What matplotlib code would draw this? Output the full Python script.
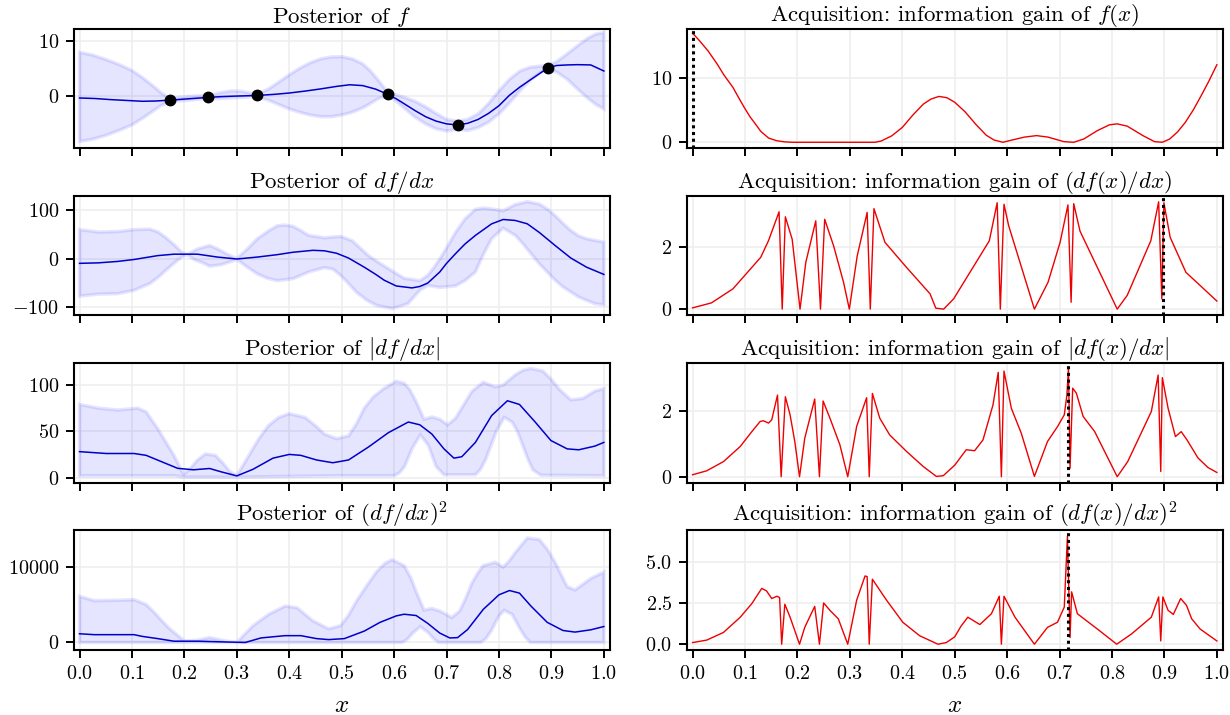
import numpy as np
import matplotlib
matplotlib.use('Agg')
import matplotlib.pyplot as plt

# ---- observed data points (posterior of f) ----
OBS_X = [0.172, 0.245, 0.339, 0.588, 0.721, 0.894]
OBS_Y = [-0.8, -0.3, 0.06, 0.25, -5.3, 5.1]

# ---- posterior of f ----
F_MEAN_X = [0, 0.03, 0.06, 0.09, 0.12, 0.145, 0.172, 0.2, 0.245, 0.27, 0.30, 0.339, 0.37, 0.40,
            0.43, 0.46, 0.49, 0.515, 0.54, 0.565, 0.588, 0.605, 0.62, 0.64, 0.66, 0.68, 0.70,
            0.721, 0.74, 0.76, 0.78, 0.80, 0.82, 0.84, 0.86, 0.88, 0.894, 0.91, 0.93, 0.95,
            0.975, 1.0]
F_MEAN_Y = [-0.4, -0.5, -0.7, -0.85, -1.0, -0.95, -0.8, -0.6, -0.3, -0.15, -0.05, 0.06, 0.25, 0.5,
            0.85, 1.25, 1.7, 2.0, 1.85, 1.2, 0.25, -0.6, -1.5, -2.7, -3.8, -4.6, -5.1,
            -5.3, -5.0, -4.3, -3.2, -1.8, 0.1, 1.6, 2.9, 4.2, 5.1, 5.5, 5.6, 5.65,
            5.6, 4.5]
F_BAND_X = [0, 0.025, 0.05, 0.075, 0.10, 0.12, 0.14, 0.155, 0.172, 0.19, 0.21, 0.23, 0.245, 0.27,
            0.29, 0.31, 0.325, 0.339, 0.36, 0.38, 0.40, 0.42, 0.44, 0.46, 0.48, 0.50, 0.52,
            0.54, 0.555, 0.57, 0.588, 0.60, 0.62, 0.64, 0.66, 0.68, 0.70, 0.721, 0.74, 0.76,
            0.78, 0.80, 0.82, 0.84, 0.86, 0.88, 0.894, 0.91, 0.93, 0.95, 0.97, 0.985, 1.0]
F_UP_Y = [7.9, 7.4, 6.6, 5.7, 4.6, 3.3, 1.8, 0.6, -0.5, -0.3, -0.1, 0.0, 0.0, 0.6,
          0.9, 0.8, 0.5, 0.3, 1.2, 2.5, 3.8, 5.0, 6.0, 6.7, 7.05, 7.1, 6.7,
          5.8, 4.5, 2.8, 0.6, 0.3, -0.3, -1.0, -2.0, -3.2, -4.3, -4.6, -4.3, -3.3,
          -1.4, 0.9, 3.0, 4.5, 5.2, 5.4, 5.5, 6.2, 7.6, 9.1, 10.5, 11.2, 11.5]
F_LO_Y = [-8.3, -7.9, -7.2, -6.3, -5.3, -4.1, -2.8, -1.8, -1.1, -0.9, -0.8, -0.6, -0.6, -0.5,
          -0.4, -0.3, -0.2, -0.2, -0.8, -1.6, -2.4, -3.0, -3.5, -3.8, -3.8, -3.5, -3.0,
          -2.2, -1.4, -0.5, 0.0, -0.7, -2.3, -3.9, -5.1, -6.0, -6.4, -6.1, -6.3, -5.8,
          -4.8, -3.3, -1.3, 0.9, 2.9, 4.3, 4.7, 4.3, 3.0, 1.2, -0.5, -1.6, -2.4]

# ---- posterior of df/dx ----
D_MEAN_X = [0, 0.036, 0.073, 0.104, 0.149, 0.18, 0.225, 0.263, 0.30, 0.339, 0.377, 0.407, 0.445,
            0.467, 0.49, 0.513, 0.543, 0.565, 0.581, 0.604, 0.634, 0.649, 0.664, 0.687, 0.70,
            0.717, 0.735, 0.755, 0.786, 0.808, 0.831, 0.854, 0.877, 0.907, 0.937, 0.967, 1.0]
D_MEAN_Y = [-10, -9, -6, -2, 6, 9, 9, 3, -1, 3, 8, 13, 17,
            16, 11, 1, -18, -33, -45, -57, -61, -58, -51, -28, -10,
            10, 30, 48, 72, 81, 79, 72, 54, 27, 1, -18, -33]
D_UP_X = [0, 0.036, 0.073, 0.104, 0.134, 0.15, 0.164, 0.18, 0.195, 0.205, 0.225, 0.248, 0.263,
          0.28, 0.293, 0.30, 0.32, 0.339, 0.36, 0.377, 0.392, 0.407, 0.422, 0.437, 0.467, 0.498,
          0.52, 0.535, 0.551, 0.57, 0.589, 0.619, 0.649, 0.664, 0.675, 0.687, 0.70, 0.717, 0.735,
          0.755, 0.77, 0.786, 0.808, 0.831, 0.854, 0.877, 0.892, 0.907, 0.922, 0.937, 0.952,
          0.967, 1.0]
D_UP_Y = [60, 55, 56, 60, 61, 55, 44, 29, 13, 8, 20, 27, 20,
          10, 3, 0, 20, 41, 57, 68, 69.5, 67, 58, 48, 43, 46,
          37, 22, 6, -8, -21, -41, -46, -35, -20, -1, 22, 54, 82,
          102, 105, 103, 99, 112, 118, 113, 103, 89, 73, 58, 47,
          41, 34]
D_LO_X = [0, 0.036, 0.073, 0.104, 0.134, 0.15, 0.164, 0.18, 0.195, 0.205, 0.22, 0.233, 0.248, 0.27,
          0.30, 0.32, 0.339, 0.358, 0.377, 0.407, 0.437, 0.467, 0.483, 0.498, 0.513, 0.528, 0.547,
          0.566, 0.596, 0.626, 0.649, 0.664, 0.687, 0.717, 0.735, 0.755, 0.77, 0.786, 0.808,
          0.831, 0.846, 0.861, 0.876, 0.892, 0.907, 0.922, 0.952, 0.983, 1.0]
D_LO_Y = [-78, -74, -73, -66, -52, -39, -25, -10, 3, 8, -3, -8, -16, -13,
          -2, -18, -32, -41, -46, -42, -28, -19, -22, -35, -52, -70, -86,
          -97, -104, -94, -66, -56, -60, -57, -46, -28, 8, 41, 63,
          48, 30, 10, -10, -28, -45, -59, -80, -94, -96]

# ---- posterior of |df/dx| ----
A_MEAN_X = [0, 0.051, 0.104, 0.127, 0.157, 0.187, 0.217, 0.248, 0.27, 0.30, 0.331, 0.369, 0.40,
            0.422, 0.452, 0.483, 0.513, 0.551, 0.589, 0.627, 0.649, 0.672, 0.695, 0.714, 0.729,
            0.755, 0.786, 0.816, 0.839, 0.869, 0.899, 0.93, 0.952, 0.983, 1.0]
A_MEAN_Y = [28, 26, 26, 24, 17, 10, 8.4, 9.8, 6.2, 1.8, 9, 21, 25,
            24, 19, 16, 19, 33, 48.5, 60, 57, 47, 31, 21, 22.5,
            38, 67, 83, 79, 60, 40, 31, 30, 34, 38]
A_UP_X = [0, 0.036, 0.073, 0.111, 0.127, 0.149, 0.165, 0.18, 0.198, 0.21, 0.225, 0.24, 0.259,
          0.273, 0.286, 0.30, 0.323, 0.342, 0.36, 0.38, 0.40, 0.43, 0.45, 0.467, 0.49, 0.513,
          0.528, 0.543, 0.56, 0.58, 0.604, 0.619, 0.63, 0.642, 0.657, 0.672, 0.687, 0.702, 0.717,
          0.732, 0.748, 0.77, 0.793, 0.808, 0.831, 0.846, 0.861, 0.884, 0.9, 0.914, 0.937,
          0.96, 0.983, 1.0]
A_UP_Y = [79, 75, 73, 75, 71, 53, 38, 24, 3.6, 9, 19, 25.5, 24,
          16, 7, 2, 24, 42, 56, 65, 69, 65, 56, 47, 42, 45,
          58, 75, 87, 96, 104, 102, 95, 82, 63, 65.5, 63, 57, 64,
          78, 93, 103, 98, 100, 111, 116, 118, 115, 106, 96, 84,
          85.5, 93.5, 96]
A_LO_X = [0, 0.18, 0.20, 0.30, 0.50, 0.60, 0.61, 0.62, 0.635, 0.65, 0.665, 0.68, 0.695, 0.755,
          0.765, 0.775, 0.785, 0.795, 0.81, 0.825, 0.835, 0.845, 0.855, 0.865, 0.88, 1.0]
A_LO_Y = [2, 2, 0.5, 0.5, 2, 2, 5, 12, 32, 46, 35, 12, 3, 3,
          9, 20, 35, 50, 65, 60, 50, 35, 20, 8, 2.5, 2]

# ---- posterior of (df/dx)^2 ----
S_MEAN_X = [0, 0.028, 0.104, 0.119, 0.149, 0.18, 0.225, 0.27, 0.316, 0.346, 0.392, 0.422, 0.452,
            0.475, 0.505, 0.543, 0.573, 0.604, 0.619, 0.642, 0.664, 0.687, 0.706, 0.721, 0.74,
            0.77, 0.80, 0.82, 0.839, 0.861, 0.892, 0.922, 0.945, 0.975, 1.0]
S_MEAN_Y = [1150, 1030, 1030, 810, 510, 170, 170, 85, 0, 600, 900, 900, 510,
            380, 510, 1500, 2650, 3500, 3720, 3550, 2520, 1240, 600, 640, 1700,
            4360, 6280, 6840, 6500, 4790, 2650, 1580, 1370, 1670, 2100]
S_UP_X = [0, 0.028, 0.073, 0.104, 0.127, 0.142, 0.157, 0.172, 0.187, 0.20, 0.225, 0.248, 0.278,
          0.30, 0.315, 0.331, 0.361, 0.392, 0.415, 0.445, 0.475, 0.498, 0.513, 0.528, 0.548,
          0.566, 0.582, 0.596, 0.619, 0.632, 0.642, 0.657, 0.672, 0.687, 0.71, 0.725, 0.737,
          0.748, 0.76, 0.77, 0.793, 0.808, 0.82, 0.831, 0.854, 0.877, 0.892, 0.907, 0.93,
          0.945, 0.975, 1.0]
S_UP_Y = [6070, 5510, 5560, 5640, 5000, 4000, 2860, 1800, 940, 210, 300, 640, 210,
          0, 1100, 2220, 3720, 4790, 4570, 2860, 1800, 2220, 3600, 5430, 7500,
          9270, 10400, 10900, 10130, 8500, 6710, 4270, 4490, 4150, 3290, 4150, 5900,
          7780, 9200, 10130, 10560, 9910, 10800, 11840, 13760, 13550, 12300, 10560, 7350,
          6920, 8420, 9270]
S_LO_X = [0, 0.615, 0.625, 0.635, 0.65, 0.665, 0.675, 0.685, 0.765, 0.775, 0.785, 0.80, 0.81,
          0.825, 0.84, 0.85, 0.86, 1.0]
S_LO_Y = [0, 0, 400, 1200, 2090, 1300, 500, 0, 0, 500, 1500, 3500, 4230,
          3700, 1800, 700, 0, 0]

# ---- acquisition: information gain of f(x) ----
G1_X = [0, 0.0135, 0.03, 0.047, 0.06, 0.077, 0.09, 0.10, 0.11, 0.122, 0.13, 0.145, 0.16, 0.175,
        0.19, 0.348, 0.36, 0.38, 0.40, 0.42, 0.44, 0.455, 0.47, 0.485, 0.50, 0.52, 0.54, 0.56,
        0.575, 0.592, 0.61, 0.633, 0.656, 0.678, 0.708, 0.727, 0.746, 0.772, 0.795, 0.81, 0.829,
        0.859, 0.881, 0.896, 0.91, 0.925, 0.94, 0.955, 0.97, 0.985, 1.0]
G1_Y = [16.9, 15.7, 14.1, 12.1, 10.4, 8.5, 6.6, 5.2, 3.9, 2.6, 1.7, 0.65, 0.25, 0.07,
        0.0, 0.0, 0.2, 1.0, 2.3, 4.2, 5.9, 6.7, 7.1, 6.9, 6.2, 4.7, 2.8, 1.1,
        0.35, 0.0, 0.36, 0.8, 1.03, 0.8, 0.1, 0.0, 0.5, 1.8, 2.7, 2.85, 2.5,
        1.03, 0.1, 0.0, 0.5, 1.6, 3.1, 5.0, 7.2, 9.5, 12.0]

# ---- acquisition: information gain of df/dx ----
G2_X = [0, 0.036, 0.077, 0.13, 0.145, 0.165, 0.171, 0.177, 0.19, 0.205, 0.216, 0.235, 0.244,
        0.252, 0.269, 0.288, 0.299, 0.314, 0.333, 0.339, 0.346, 0.367, 0.408, 0.453, 0.464,
        0.479, 0.498, 0.566, 0.581, 0.587, 0.594, 0.603, 0.652, 0.678, 0.701, 0.716, 0.722,
        0.727, 0.739, 0.81, 0.829, 0.874, 0.889, 0.895, 0.899, 0.911, 0.941, 1.0]
G2_Y = [0.04, 0.2, 0.65, 1.66, 2.2, 3.12, 0.0, 2.96, 2.24, 0.0, 1.5, 2.83, 0.0,
        2.88, 2.03, 0.86, 0.0, 1.7, 3.1, 0.0, 3.22, 2.14, 1.34, 0.49, 0.03,
        0.0, 0.33, 2.19, 3.41, 0.0, 3.36, 2.67, 0.0, 0.86, 2.14, 3.34, 0.22,
        3.38, 2.5, 0.0, 0.44, 2.19, 3.44, 0.33, 3.41, 2.3, 1.18, 0.26]

# ---- acquisition: information gain of |df/dx| ----
G3_X = [0, 0.027, 0.059, 0.091, 0.113, 0.129, 0.135, 0.145, 0.151, 0.162, 0.169, 0.177, 0.186,
        0.195, 0.204, 0.214, 0.233, 0.242, 0.249, 0.262, 0.281, 0.296, 0.313, 0.332, 0.337,
        0.343, 0.357, 0.376, 0.408, 0.44, 0.465, 0.478, 0.50, 0.522, 0.538, 0.554, 0.573,
        0.583, 0.589, 0.594, 0.608, 0.627, 0.652, 0.677, 0.696, 0.709, 0.714, 0.717, 0.72,
        0.725, 0.732, 0.745, 0.767, 0.81, 0.83, 0.875, 0.888, 0.893, 0.896, 0.907, 0.921,
        0.932, 0.943, 0.964, 0.983, 1.0]
G3_Y = [0.06, 0.18, 0.46, 0.92, 1.37, 1.68, 1.70, 1.63, 1.73, 2.48, 0.0, 2.43, 1.88,
        1.07, 0.0, 1.17, 2.36, 0.0, 2.3, 1.78, 0.97, 0.0, 1.53, 2.4, 0.0,
        2.53, 1.78, 1.27, 0.77, 0.31, 0.01, 0.03, 0.35, 0.82, 0.79, 1.12, 2.18,
        3.17, 0.0, 3.21, 2.08, 1.32, 0.01, 1.07, 1.52, 1.88, 2.48, 3.3, 0.26,
        2.69, 2.54, 1.83, 1.37, 0.0, 0.46, 1.98, 3.09, 0.16, 3.01, 2.08, 1.22,
        1.37, 1.12, 0.57, 0.28, 0.13]

# ---- acquisition: information gain of (df/dx)^2 ----
G4_X = [0, 0.027, 0.059, 0.091, 0.113, 0.132, 0.141, 0.151, 0.161, 0.166, 0.17, 0.176, 0.186,
        0.195, 0.204, 0.214, 0.233, 0.242, 0.25, 0.262, 0.278, 0.296, 0.313, 0.329, 0.333,
        0.337, 0.343, 0.37, 0.401, 0.433, 0.468, 0.484, 0.50, 0.512, 0.525, 0.548, 0.57,
        0.585, 0.589, 0.594, 0.615, 0.652, 0.677, 0.696, 0.709, 0.715, 0.72, 0.723, 0.734,
        0.772, 0.809, 0.837, 0.875, 0.889, 0.893, 0.897, 0.907, 0.917, 0.931, 0.942, 0.952,
        0.968, 1.0]
G4_Y = [0.1, 0.25, 0.72, 1.65, 2.48, 3.41, 3.26, 2.79, 2.93, 2.85, 0.0, 2.44, 1.65,
        0.83, 0.0, 1.03, 2.31, 0.0, 2.52, 2.07, 1.55, 0.0, 2.69, 4.17, 4.13,
        0.0, 3.97, 2.69, 1.34, 0.52, 0.0, 0.1, 0.45, 1.1, 1.65, 1.2, 1.86,
        2.93, 0.0, 2.93, 1.65, 0.0, 1.03, 1.34, 2.27, 6.6, 0.41, 3.2, 1.86,
        0.93, 0.0, 0.62, 1.65, 2.89, 0.2, 2.89, 2.07, 1.82, 2.79, 2.38, 1.55,
        0.93, 0.2]

# x of the maximum of each acquisition (dotted line)
ACQ_ARGMAX = [0.0, 0.898, 0.716, 0.716]

POST_TITLES = ['Posterior of $f$', 'Posterior of $df/dx$', 'Posterior of $|df/dx|$',
               'Posterior of $(df/dx)^2$']
ACQ_TITLES = ['Acquisition: information gain of $f(x)$',
              'Acquisition: information gain of $(df(x)/dx)$',
              'Acquisition: information gain of $|df(x)/dx|$',
              'Acquisition: information gain of $(df(x)/dx)^2$']

POST_YLIM = [(-9.5, 12.2), (-118, 130), (-5.5, 123.6), (-980, 14750)]
POST_YTICKS = [[0, 10], [-100, 0, 100], [0, 50, 100], [0, 10000]]
ACQ_YLIM = [(-0.9, 17.6), (-0.2, 3.63), (-0.18, 3.45), (-0.35, 6.95)]
ACQ_YTICKS = [[0, 10], [0, 2], [0, 2], [0, 2.5, 5.0]]


def setup_fonts():
    plt.rcParams['font.family'] = 'serif'
    plt.rcParams['font.serif'] = ['cmr10']
    plt.rcParams['mathtext.fontset'] = 'cm'
    plt.rcParams['axes.formatter.use_mathtext'] = True
    plt.rcParams['axes.unicode_minus'] = True


def style_axes(ax, ylim, yticks, bottom):
    ax.set_xlim(-0.011, 1.011)
    ax.set_ylim(*ylim)
    ax.set_xticks(np.arange(0, 1.01, 0.1))
    ax.set_yticks(yticks)
    ax.grid(True, color='#efefef', lw=1.2, zorder=0)
    ax.set_axisbelow(True)
    for sp in ax.spines.values():
        sp.set_linewidth(1.5)
        sp.set_color('black')
    ax.tick_params(direction='out', length=5.5, width=1.4, labelsize=14.5, pad=5)
    if bottom:
        ax.set_xlabel('$x$', fontsize=18, labelpad=9)
    else:
        ax.tick_params(labelbottom=False)


def band(ax, ux, uy, lx, ly):
    px = np.concatenate([ux, lx[::-1]])
    py = np.concatenate([uy, ly[::-1]])
    ax.fill(px, py, color='blue', alpha=0.1, lw=2.5)


def plot_posteriors(axes):
    series = [
        (F_MEAN_X, F_MEAN_Y, F_BAND_X, F_UP_Y, F_BAND_X, F_LO_Y),
        (D_MEAN_X, D_MEAN_Y, D_UP_X, D_UP_Y, D_LO_X, D_LO_Y),
        (A_MEAN_X, A_MEAN_Y, A_UP_X, A_UP_Y, A_LO_X, A_LO_Y),
        (S_MEAN_X, S_MEAN_Y, S_UP_X, S_UP_Y, S_LO_X, S_LO_Y),
    ]
    for i, (ax, (mx, my, ux, uy, lx, ly)) in enumerate(zip(axes, series)):
        band(ax, np.array(ux), np.array(uy), np.array(lx), np.array(ly))
        ax.plot(mx, my, color='#0000c8', lw=1.1, zorder=3)
        if i == 0:
            ax.plot(OBS_X, OBS_Y, 'o', color='black', ms=7.5, zorder=4)
        ax.set_title(POST_TITLES[i], fontsize=16.5, pad=3)
        style_axes(ax, POST_YLIM[i], POST_YTICKS[i], bottom=(i == 3))


def plot_acquisitions(axes):
    series = [(G1_X, G1_Y), (G2_X, G2_Y), (G3_X, G3_Y), (G4_X, G4_Y)]
    for i, (ax, (gx, gy)) in enumerate(zip(axes, series)):
        ax.plot(gx, gy, color='#ee0000', lw=1.0, zorder=3)
        ax.axvline(ACQ_ARGMAX[i], color='black', lw=2.2, ls=(0, (1, 1.2)), zorder=4)
        ax.set_title(ACQ_TITLES[i], fontsize=16.5, pad=3)
        style_axes(ax, ACQ_YLIM[i], ACQ_YTICKS[i], bottom=(i == 3))


def main():
    setup_fonts()
    fig, ax = plt.subplots(4, 2, figsize=(12.3, 7.15), dpi=100)
    fig.subplots_adjust(left=0.060, right=0.994, top=0.960, bottom=0.091,
                        wspace=0.144, hspace=0.40)
    plot_posteriors(ax[:, 0])
    plot_acquisitions(ax[:, 1])
    fig.savefig('out.png', dpi=100)


if __name__ == "__main__":
    main()
